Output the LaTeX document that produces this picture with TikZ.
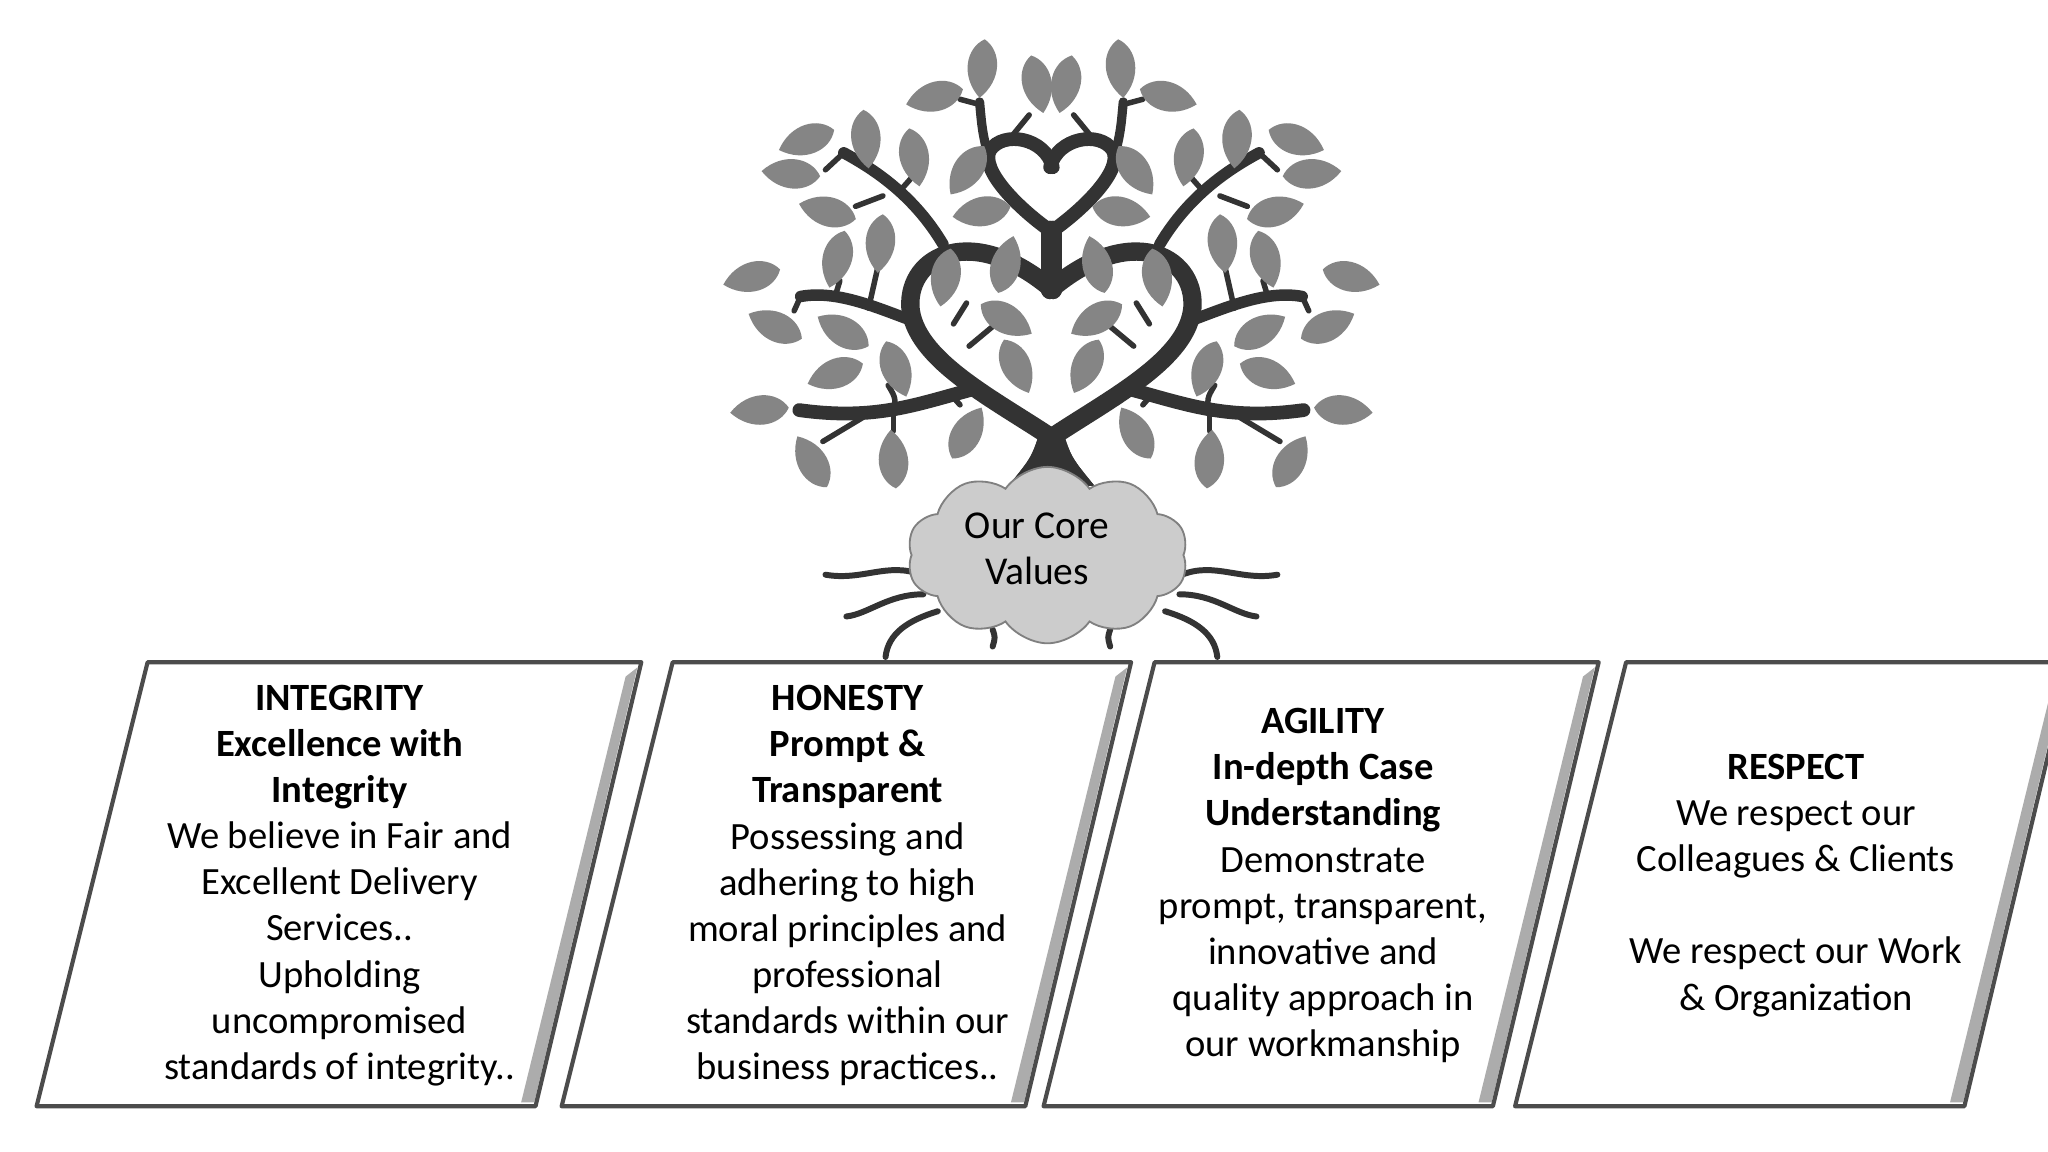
\documentclass[tikz,border=0pt]{standalone}
\usepackage{fontspec}
\setmainfont{Carlito}
\usetikzlibrary{shapes.symbols}
\definecolor{bark}{gray}{0.2}
\definecolor{leafc}{gray}{0.52}
\tikzset{
  branch/.style={draw=bark,line cap=round,line width=#1},
  leaf/.style={fill=leafc},
  boxtext/.style={align=center,font=\fontsize{8.4}{10.03}\selectfont},
  root/.style={draw=bark,line width=1.3pt,line cap=round},
}
\newcommand{\leafat}[3]{\fill[leaf,shift={(#1,#2)},rotate=#3] (-22,0) .. controls (-14,14) and (8,16) .. (23,0) .. controls (8,-16) and (-14,-14) .. (-22,0);}
\newcommand{\halftree}{%
  \draw[branch=4pt] (805,335) .. controls (760,305) and (700,275) .. (697,235) .. controls (695,195) and (745,170) .. (806,222);
  \draw[branch=3pt] (806,178) .. controls (780,160) and (750,130) .. (758,115) .. controls (768,100) and (800,105) .. (806,128);
  \draw[branch=2pt] (757,122) .. controls (752,100) .. (750,78);
  \draw[branch=1.2pt] (750,80) -- (735,76);
  \draw[branch=1.2pt] (770,110) -- (788,88);
  \draw[branch=2.5pt] (722,187) .. controls (700,150) and (670,130) .. (646,117);
  \draw[branch=1.2pt] (646,117) -- (632,130);
  \draw[branch=1.2pt] (690,145) -- (698,136);
  \draw[branch=1.2pt] (663,126) -- (662,124);
  \draw[branch=1.2pt] (676,150) -- (655,158);
  \draw[branch=2.5pt] (697,245) .. controls (670,235) and (640,222) .. (613,227);
  \draw[branch=1.2pt] (665,236) -- (672,205);
  \draw[branch=1.2pt] (640,225) -- (643,215);
  \draw[branch=1.2pt] (613,227) -- (608,238);
  \draw[branch=3pt] (745,298) .. controls (700,310) and (670,322) .. (612,314);
  \draw[branch=1.2pt] (684,318) -- (684,330);
  \draw[branch=1.2pt] (660,320) -- (630,338);
  \draw[branch=1.2pt] (684,318) .. controls (686,305) .. (680,295);
  \draw[branch=1.2pt] (728,302) -- (735,310);
  \draw[branch=1.2pt] (730,248) -- (740,232);
  \draw[branch=1.2pt] (742,265) -- (760,250);
  \foreach \x/\y/\a in {752/52/-95, 716/74/195, 794/64/-78,
    618/107/200, 606/133/175, 663/106/-85, 700/120/-80, 634/162/165,
    576/212/195, 594/250/155, 641/198/-105, 674/186/-95, 646/254/150,
    582/314/185, 622/354/120, 684/352/95, 640/286/200, 686/282/-70, 740/332/60,
    724/212/-100, 770/244/-30, 770/203/75, 778/280/-65, 741/130/235, 752/162/190}
    {\leafat{\x}{\y}{\a}}
  \fill[bark] (772,372) .. controls (790,350) .. (797,328) -- (813,328) .. controls (820,350) .. (838,372) -- cycle;
  \draw[branch=4pt] (806,222) -- (806,176);
  \draw[root] (705,440) .. controls (680,430) and (660,445) .. (632,440);
  \draw[root] (707,455) .. controls (680,455) and (665,470) .. (648,472);
  \draw[root] (718,468) .. controls (695,475) and (680,485) .. (678,503);
  \draw[root] (760,482) .. controls (762,488) .. (760,495);
}
\newcommand{\cbox}[2]{%
  \fill[white] (#1,507) -- (#2,507) -- (#2-81,847) -- (#1-85,847) -- cycle;
  \fill[gray!65] (#2-3,511) -- (#2-82,844) -- (#2-92,844) -- (#2-12,518) -- cycle;
  \draw[gray!60!black,line width=0.9pt,line join=round] (#1,507) -- (#2,507) -- (#2-81,847) -- (#1-85,847) -- cycle;
}
\begin{document}
\begin{tikzpicture}[x=0.01cm,y=-0.01cm]
\useasboundingbox (0,0) rectangle (1568,882);
\clip (0,0) rectangle (1568,882);
\fill[white] (0,0) rectangle (1568,882);
\halftree
\begin{scope}[shift={(1610,0)},xscale=-1]
\halftree
\end{scope}
\node[cloud,cloud puffs=10,cloud puff arc=110,aspect=1.6,draw=gray,fill=gray!40,minimum width=2.15cm,minimum height=1.35cm] (cloud) at (802,425) {};
\node[boxtext,font=\fontsize{8.6}{10}\selectfont] (ctext) at (794,420) {Our Core\\Values};
\cbox{113}{491}
\cbox{515}{866}
\cbox{884}{1224}
\cbox{1245}{1585}
\node[boxtext] (b1) at (260,678) {\textbf{INTEGRITY}\\\textbf{Excellence with}\\\textbf{Integrity}\\We believe in Fair and\\Excellent Delivery\\Services..\\Upholding\\uncompromised\\standards of integrity..};
\node[boxtext] (b2) at (649,678) {\textbf{HONESTY}\\\textbf{Prompt \&}\\\textbf{Transparent}\\Possessing and\\adhering to high\\moral principles and\\professional\\standards within our\\business practices..};
\node[boxtext] (b3) at (1013,678) {\textbf{AGILITY}\\\textbf{In-depth Case}\\\textbf{Understanding}\\Demonstrate\\prompt, transparent,\\innovative and\\quality approach in\\our workmanship};
\node[boxtext] (b4) at (1375,678) {\textbf{RESPECT}\\We respect our\\Colleagues \& Clients\\[10.03pt]We respect our Work\\\& Organization};
\end{tikzpicture}
\end{document}
